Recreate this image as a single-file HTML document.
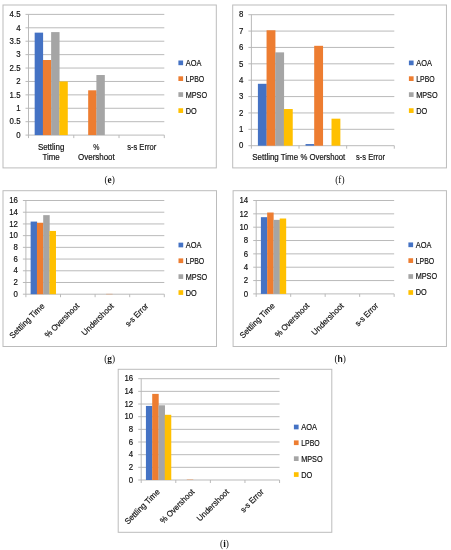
<!DOCTYPE html>
<html><head><meta charset="utf-8"><title>Figure</title>
<style>
html,body{margin:0;padding:0;background:#fff;}
svg{display:block}
text{font-family:"Liberation Sans",sans-serif;font-size:8.3px;fill:#111;stroke:#111;stroke-width:0.18px}
text.cap{font-family:"Liberation Serif",serif;font-size:9.3px;fill:#111;stroke:none}
tspan.b{font-weight:bold}
tspan.s{font-family:"Liberation Sans",sans-serif;font-size:8.6px}
</style></head><body>
<svg width="451" height="550" viewBox="0 0 451 550">
<rect width="451" height="550" fill="#fff"/>
<rect x="3" y="5" width="213.3" height="162.9" fill="#fff" stroke="#BCBCBC" stroke-width="1"/>
<line x1="25.5" y1="135.1" x2="164.3" y2="135.1" stroke="#B6B6B6" stroke-width="0.95"/>
<text x="20.5" y="137.8" text-anchor="end" textLength="4.36" lengthAdjust="spacingAndGlyphs">0</text>
<line x1="25.5" y1="121.69" x2="164.3" y2="121.69" stroke="#B6B6B6" stroke-width="0.95"/>
<text x="20.5" y="124.39" text-anchor="end" textLength="10.89" lengthAdjust="spacingAndGlyphs">0.5</text>
<line x1="25.5" y1="108.28" x2="164.3" y2="108.28" stroke="#B6B6B6" stroke-width="0.95"/>
<text x="20.5" y="110.98" text-anchor="end" textLength="4.36" lengthAdjust="spacingAndGlyphs">1</text>
<line x1="25.5" y1="94.87" x2="164.3" y2="94.87" stroke="#B6B6B6" stroke-width="0.95"/>
<text x="20.5" y="97.57" text-anchor="end" textLength="10.89" lengthAdjust="spacingAndGlyphs">1.5</text>
<line x1="25.5" y1="81.46" x2="164.3" y2="81.46" stroke="#B6B6B6" stroke-width="0.95"/>
<text x="20.5" y="84.16" text-anchor="end" textLength="4.36" lengthAdjust="spacingAndGlyphs">2</text>
<line x1="25.5" y1="68.04" x2="164.3" y2="68.04" stroke="#B6B6B6" stroke-width="0.95"/>
<text x="20.5" y="70.74" text-anchor="end" textLength="10.89" lengthAdjust="spacingAndGlyphs">2.5</text>
<line x1="25.5" y1="54.63" x2="164.3" y2="54.63" stroke="#B6B6B6" stroke-width="0.95"/>
<text x="20.5" y="57.33" text-anchor="end" textLength="4.36" lengthAdjust="spacingAndGlyphs">3</text>
<line x1="25.5" y1="41.22" x2="164.3" y2="41.22" stroke="#B6B6B6" stroke-width="0.95"/>
<text x="20.5" y="43.92" text-anchor="end" textLength="10.89" lengthAdjust="spacingAndGlyphs">3.5</text>
<line x1="25.5" y1="27.81" x2="164.3" y2="27.81" stroke="#B6B6B6" stroke-width="0.95"/>
<text x="20.5" y="30.51" text-anchor="end" textLength="4.36" lengthAdjust="spacingAndGlyphs">4</text>
<line x1="25.5" y1="14.4" x2="164.3" y2="14.4" stroke="#B6B6B6" stroke-width="0.95"/>
<text x="20.5" y="17.1" text-anchor="end" textLength="10.89" lengthAdjust="spacingAndGlyphs">4.5</text>
<line x1="28.5" y1="14.4" x2="28.5" y2="138.1" stroke="#B6B6B6" stroke-width="0.95"/>
<line x1="73.77" y1="135.1" x2="73.77" y2="138.1" stroke="#B6B6B6" stroke-width="0.95"/>
<line x1="119.03" y1="135.1" x2="119.03" y2="138.1" stroke="#B6B6B6" stroke-width="0.95"/>
<line x1="164.3" y1="135.1" x2="164.3" y2="138.1" stroke="#B6B6B6" stroke-width="0.95"/>
<rect x="34.67" y="32.64" width="8.43" height="102.46" fill="#4472C4"/>
<rect x="42.9" y="60" width="8.43" height="75.1" fill="#ED7D31"/>
<rect x="51.13" y="32.1" width="8.43" height="103" fill="#A5A5A5"/>
<rect x="59.36" y="81.46" width="8.43" height="53.64" fill="#FFC000"/>
<rect x="88.17" y="90.31" width="8.43" height="44.79" fill="#ED7D31"/>
<rect x="96.4" y="75.02" width="8.43" height="60.08" fill="#A5A5A5"/>
<text x="51.13" y="149.5" text-anchor="middle" textLength="26.50" lengthAdjust="spacingAndGlyphs">Settling</text>
<text x="51.13" y="159.9" text-anchor="middle" textLength="17.31" lengthAdjust="spacingAndGlyphs">Time</text>
<text x="96.4" y="149.5" text-anchor="middle" textLength="6.15" lengthAdjust="spacingAndGlyphs">%</text>
<text x="96.4" y="159.9" text-anchor="middle" textLength="36.69" lengthAdjust="spacingAndGlyphs">Overshoot</text>
<text x="141.67" y="149.5" text-anchor="middle" textLength="29.03" lengthAdjust="spacingAndGlyphs">s-s Error</text>
<rect x="178.4" y="60.5" width="4.7" height="4.7" fill="#4472C4"/>
<text x="185.7" y="65.8" textLength="15.65" lengthAdjust="spacingAndGlyphs">AOA</text>
<rect x="178.4" y="76.3" width="4.7" height="4.7" fill="#ED7D31"/>
<text x="185.7" y="81.6" textLength="18.43" lengthAdjust="spacingAndGlyphs">LPBO</text>
<rect x="178.4" y="92.2" width="4.7" height="4.7" fill="#A5A5A5"/>
<text x="185.7" y="97.5" textLength="21.44" lengthAdjust="spacingAndGlyphs">MPSO</text>
<rect x="178.4" y="108.25" width="4.7" height="4.7" fill="#FFC000"/>
<text x="185.7" y="113.55" textLength="10.98" lengthAdjust="spacingAndGlyphs">DO</text>
<text class="cap" x="109.6" y="183" text-anchor="middle">(<tspan class="b">e</tspan>)</text>
<rect x="232.7" y="5" width="213.75" height="162.9" fill="#fff" stroke="#BCBCBC" stroke-width="1"/>
<line x1="248.4" y1="145.7" x2="394.3" y2="145.7" stroke="#B6B6B6" stroke-width="0.95"/>
<text x="243.4" y="148.4" text-anchor="end" textLength="4.36" lengthAdjust="spacingAndGlyphs">0</text>
<line x1="248.4" y1="129.32" x2="394.3" y2="129.32" stroke="#B6B6B6" stroke-width="0.95"/>
<text x="243.4" y="132.02" text-anchor="end" textLength="4.36" lengthAdjust="spacingAndGlyphs">1</text>
<line x1="248.4" y1="112.95" x2="394.3" y2="112.95" stroke="#B6B6B6" stroke-width="0.95"/>
<text x="243.4" y="115.65" text-anchor="end" textLength="4.36" lengthAdjust="spacingAndGlyphs">2</text>
<line x1="248.4" y1="96.57" x2="394.3" y2="96.57" stroke="#B6B6B6" stroke-width="0.95"/>
<text x="243.4" y="99.27" text-anchor="end" textLength="4.36" lengthAdjust="spacingAndGlyphs">3</text>
<line x1="248.4" y1="80.2" x2="394.3" y2="80.2" stroke="#B6B6B6" stroke-width="0.95"/>
<text x="243.4" y="82.9" text-anchor="end" textLength="4.36" lengthAdjust="spacingAndGlyphs">4</text>
<line x1="248.4" y1="63.82" x2="394.3" y2="63.82" stroke="#B6B6B6" stroke-width="0.95"/>
<text x="243.4" y="66.52" text-anchor="end" textLength="4.36" lengthAdjust="spacingAndGlyphs">5</text>
<line x1="248.4" y1="47.45" x2="394.3" y2="47.45" stroke="#B6B6B6" stroke-width="0.95"/>
<text x="243.4" y="50.15" text-anchor="end" textLength="4.36" lengthAdjust="spacingAndGlyphs">6</text>
<line x1="248.4" y1="31.07" x2="394.3" y2="31.07" stroke="#B6B6B6" stroke-width="0.95"/>
<text x="243.4" y="33.77" text-anchor="end" textLength="4.36" lengthAdjust="spacingAndGlyphs">7</text>
<line x1="248.4" y1="14.7" x2="394.3" y2="14.7" stroke="#B6B6B6" stroke-width="0.95"/>
<text x="243.4" y="17.4" text-anchor="end" textLength="4.36" lengthAdjust="spacingAndGlyphs">8</text>
<line x1="251.4" y1="14.7" x2="251.4" y2="148.7" stroke="#B6B6B6" stroke-width="0.95"/>
<line x1="299.03" y1="145.7" x2="299.03" y2="148.7" stroke="#B6B6B6" stroke-width="0.95"/>
<line x1="346.67" y1="145.7" x2="346.67" y2="148.7" stroke="#B6B6B6" stroke-width="0.95"/>
<line x1="394.3" y1="145.7" x2="394.3" y2="148.7" stroke="#B6B6B6" stroke-width="0.95"/>
<rect x="257.9" y="83.8" width="8.86" height="61.9" fill="#4472C4"/>
<rect x="266.56" y="30.26" width="8.86" height="115.44" fill="#ED7D31"/>
<rect x="275.22" y="52.36" width="8.86" height="93.34" fill="#A5A5A5"/>
<rect x="283.88" y="109.02" width="8.86" height="36.68" fill="#FFC000"/>
<rect x="305.53" y="144.06" width="8.86" height="1.64" fill="#4472C4"/>
<rect x="314.19" y="45.81" width="8.86" height="99.89" fill="#ED7D31"/>
<rect x="331.51" y="118.68" width="8.86" height="27.02" fill="#FFC000"/>
<text x="275.22" y="159.5" text-anchor="middle" textLength="45.75" lengthAdjust="spacingAndGlyphs">Settling Time</text>
<text x="322.85" y="159.5" text-anchor="middle" textLength="44.78" lengthAdjust="spacingAndGlyphs">% Overshoot</text>
<text x="370.48" y="159.5" text-anchor="middle" textLength="29.03" lengthAdjust="spacingAndGlyphs">s-s Error</text>
<rect x="408.9" y="60.55" width="4.7" height="4.7" fill="#4472C4"/>
<text x="416.2" y="65.85" textLength="15.65" lengthAdjust="spacingAndGlyphs">AOA</text>
<rect x="408.9" y="76.3" width="4.7" height="4.7" fill="#ED7D31"/>
<text x="416.2" y="81.6" textLength="18.43" lengthAdjust="spacingAndGlyphs">LPBO</text>
<rect x="408.9" y="92.25" width="4.7" height="4.7" fill="#A5A5A5"/>
<text x="416.2" y="97.55" textLength="21.44" lengthAdjust="spacingAndGlyphs">MPSO</text>
<rect x="408.9" y="108.25" width="4.7" height="4.7" fill="#FFC000"/>
<text x="416.2" y="113.55" textLength="10.98" lengthAdjust="spacingAndGlyphs">DO</text>
<text class="cap" x="339.9" y="183" text-anchor="middle">(<tspan class="r">f</tspan>)</text>
<rect x="3" y="190.7" width="213.5" height="155.8" fill="#fff" stroke="#BCBCBC" stroke-width="1"/>
<line x1="22.9" y1="294.2" x2="164.3" y2="294.2" stroke="#B6B6B6" stroke-width="0.95"/>
<text x="17.9" y="296.9" text-anchor="end" textLength="4.36" lengthAdjust="spacingAndGlyphs">0</text>
<line x1="22.9" y1="282.49" x2="164.3" y2="282.49" stroke="#B6B6B6" stroke-width="0.95"/>
<text x="17.9" y="285.19" text-anchor="end" textLength="4.36" lengthAdjust="spacingAndGlyphs">2</text>
<line x1="22.9" y1="270.77" x2="164.3" y2="270.77" stroke="#B6B6B6" stroke-width="0.95"/>
<text x="17.9" y="273.47" text-anchor="end" textLength="4.36" lengthAdjust="spacingAndGlyphs">4</text>
<line x1="22.9" y1="259.06" x2="164.3" y2="259.06" stroke="#B6B6B6" stroke-width="0.95"/>
<text x="17.9" y="261.76" text-anchor="end" textLength="4.36" lengthAdjust="spacingAndGlyphs">6</text>
<line x1="22.9" y1="247.35" x2="164.3" y2="247.35" stroke="#B6B6B6" stroke-width="0.95"/>
<text x="17.9" y="250.05" text-anchor="end" textLength="4.36" lengthAdjust="spacingAndGlyphs">8</text>
<line x1="22.9" y1="235.64" x2="164.3" y2="235.64" stroke="#B6B6B6" stroke-width="0.95"/>
<text x="17.9" y="238.34" text-anchor="end" textLength="8.72" lengthAdjust="spacingAndGlyphs">10</text>
<line x1="22.9" y1="223.93" x2="164.3" y2="223.93" stroke="#B6B6B6" stroke-width="0.95"/>
<text x="17.9" y="226.62" text-anchor="end" textLength="8.72" lengthAdjust="spacingAndGlyphs">12</text>
<line x1="22.9" y1="212.21" x2="164.3" y2="212.21" stroke="#B6B6B6" stroke-width="0.95"/>
<text x="17.9" y="214.91" text-anchor="end" textLength="8.72" lengthAdjust="spacingAndGlyphs">14</text>
<line x1="22.9" y1="200.5" x2="164.3" y2="200.5" stroke="#B6B6B6" stroke-width="0.95"/>
<text x="17.9" y="203.2" text-anchor="end" textLength="8.72" lengthAdjust="spacingAndGlyphs">16</text>
<line x1="25.9" y1="200.5" x2="25.9" y2="297.2" stroke="#B6B6B6" stroke-width="0.95"/>
<line x1="60.5" y1="294.2" x2="60.5" y2="297.2" stroke="#B6B6B6" stroke-width="0.95"/>
<line x1="95.1" y1="294.2" x2="95.1" y2="297.2" stroke="#B6B6B6" stroke-width="0.95"/>
<line x1="129.7" y1="294.2" x2="129.7" y2="297.2" stroke="#B6B6B6" stroke-width="0.95"/>
<line x1="164.3" y1="294.2" x2="164.3" y2="297.2" stroke="#B6B6B6" stroke-width="0.95"/>
<rect x="30.62" y="221.58" width="6.49" height="72.62" fill="#4472C4"/>
<rect x="36.91" y="222.75" width="6.49" height="71.45" fill="#ED7D31"/>
<rect x="43.2" y="215.14" width="6.49" height="79.06" fill="#A5A5A5"/>
<rect x="49.49" y="230.95" width="6.49" height="63.25" fill="#FFC000"/>
<rect x="106.11" y="293.91" width="6.49" height="0.29" fill="#ED7D31"/>
<text transform="translate(45.1,306.6) rotate(-45)" text-anchor="end" textLength="45.75" lengthAdjust="spacingAndGlyphs">Settling Time</text>
<text transform="translate(79.7,306.6) rotate(-45)" text-anchor="end" textLength="44.78" lengthAdjust="spacingAndGlyphs">% Overshoot</text>
<text transform="translate(114.3,306.6) rotate(-45)" text-anchor="end" textLength="41.66" lengthAdjust="spacingAndGlyphs">Undershoot</text>
<text transform="translate(148.9,306.6) rotate(-45)" text-anchor="end" textLength="29.03" lengthAdjust="spacingAndGlyphs">s-s Error</text>
<rect x="178.5" y="242.65" width="4.7" height="4.7" fill="#4472C4"/>
<text x="185.8" y="247.95" textLength="15.65" lengthAdjust="spacingAndGlyphs">AOA</text>
<rect x="178.5" y="258.4" width="4.7" height="4.7" fill="#ED7D31"/>
<text x="185.8" y="263.7" textLength="18.43" lengthAdjust="spacingAndGlyphs">LPBO</text>
<rect x="178.5" y="274.25" width="4.7" height="4.7" fill="#A5A5A5"/>
<text x="185.8" y="279.55" textLength="21.44" lengthAdjust="spacingAndGlyphs">MPSO</text>
<rect x="178.5" y="290.2" width="4.7" height="4.7" fill="#FFC000"/>
<text x="185.8" y="295.5" textLength="10.98" lengthAdjust="spacingAndGlyphs">DO</text>
<text class="cap" x="109.7" y="361.6" text-anchor="middle">(<tspan class="b">g</tspan>)</text>
<rect x="233.1" y="190.7" width="213.35" height="155.8" fill="#fff" stroke="#BCBCBC" stroke-width="1"/>
<line x1="253.2" y1="293.9" x2="394.15" y2="293.9" stroke="#B6B6B6" stroke-width="0.95"/>
<text x="248.2" y="296.6" text-anchor="end" textLength="4.36" lengthAdjust="spacingAndGlyphs">0</text>
<line x1="253.2" y1="280.56" x2="394.15" y2="280.56" stroke="#B6B6B6" stroke-width="0.95"/>
<text x="248.2" y="283.26" text-anchor="end" textLength="4.36" lengthAdjust="spacingAndGlyphs">2</text>
<line x1="253.2" y1="267.21" x2="394.15" y2="267.21" stroke="#B6B6B6" stroke-width="0.95"/>
<text x="248.2" y="269.91" text-anchor="end" textLength="4.36" lengthAdjust="spacingAndGlyphs">4</text>
<line x1="253.2" y1="253.87" x2="394.15" y2="253.87" stroke="#B6B6B6" stroke-width="0.95"/>
<text x="248.2" y="256.57" text-anchor="end" textLength="4.36" lengthAdjust="spacingAndGlyphs">6</text>
<line x1="253.2" y1="240.53" x2="394.15" y2="240.53" stroke="#B6B6B6" stroke-width="0.95"/>
<text x="248.2" y="243.23" text-anchor="end" textLength="4.36" lengthAdjust="spacingAndGlyphs">8</text>
<line x1="253.2" y1="227.19" x2="394.15" y2="227.19" stroke="#B6B6B6" stroke-width="0.95"/>
<text x="248.2" y="229.89" text-anchor="end" textLength="8.72" lengthAdjust="spacingAndGlyphs">10</text>
<line x1="253.2" y1="213.84" x2="394.15" y2="213.84" stroke="#B6B6B6" stroke-width="0.95"/>
<text x="248.2" y="216.54" text-anchor="end" textLength="8.72" lengthAdjust="spacingAndGlyphs">12</text>
<line x1="253.2" y1="200.5" x2="394.15" y2="200.5" stroke="#B6B6B6" stroke-width="0.95"/>
<text x="248.2" y="203.2" text-anchor="end" textLength="8.72" lengthAdjust="spacingAndGlyphs">14</text>
<line x1="256.2" y1="200.5" x2="256.2" y2="296.9" stroke="#B6B6B6" stroke-width="0.95"/>
<line x1="290.69" y1="293.9" x2="290.69" y2="296.9" stroke="#B6B6B6" stroke-width="0.95"/>
<line x1="325.17" y1="293.9" x2="325.17" y2="296.9" stroke="#B6B6B6" stroke-width="0.95"/>
<line x1="359.66" y1="293.9" x2="359.66" y2="296.9" stroke="#B6B6B6" stroke-width="0.95"/>
<line x1="394.15" y1="293.9" x2="394.15" y2="296.9" stroke="#B6B6B6" stroke-width="0.95"/>
<rect x="260.9" y="217.18" width="6.47" height="76.72" fill="#4472C4"/>
<rect x="267.17" y="212.51" width="6.47" height="81.39" fill="#ED7D31"/>
<rect x="273.44" y="219.85" width="6.47" height="74.05" fill="#A5A5A5"/>
<rect x="279.71" y="218.51" width="6.47" height="75.39" fill="#FFC000"/>
<text transform="translate(275.34,306.3) rotate(-45)" text-anchor="end" textLength="45.75" lengthAdjust="spacingAndGlyphs">Settling Time</text>
<text transform="translate(309.83,306.3) rotate(-45)" text-anchor="end" textLength="44.78" lengthAdjust="spacingAndGlyphs">% Overshoot</text>
<text transform="translate(344.32,306.3) rotate(-45)" text-anchor="end" textLength="41.66" lengthAdjust="spacingAndGlyphs">Undershoot</text>
<text transform="translate(378.81,306.3) rotate(-45)" text-anchor="end" textLength="29.03" lengthAdjust="spacingAndGlyphs">s-s Error</text>
<rect x="408.4" y="242.45" width="4.7" height="4.7" fill="#4472C4"/>
<text x="415.7" y="247.75" textLength="15.65" lengthAdjust="spacingAndGlyphs">AOA</text>
<rect x="408.4" y="258.25" width="4.7" height="4.7" fill="#ED7D31"/>
<text x="415.7" y="263.55" textLength="18.43" lengthAdjust="spacingAndGlyphs">LPBO</text>
<rect x="408.4" y="274.15" width="4.7" height="4.7" fill="#A5A5A5"/>
<text x="415.7" y="279.45" textLength="21.44" lengthAdjust="spacingAndGlyphs">MPSO</text>
<rect x="408.4" y="290.15" width="4.7" height="4.7" fill="#FFC000"/>
<text x="415.7" y="295.45" textLength="10.98" lengthAdjust="spacingAndGlyphs">DO</text>
<text class="cap" x="340.2" y="361.6" text-anchor="middle">(<tspan class="b s">h</tspan>)</text>
<rect x="118.2" y="369.3" width="213.6" height="163" fill="#fff" stroke="#BCBCBC" stroke-width="1"/>
<line x1="138.2" y1="480" x2="279.55" y2="480" stroke="#B6B6B6" stroke-width="0.95"/>
<text x="133.2" y="482.7" text-anchor="end" textLength="4.36" lengthAdjust="spacingAndGlyphs">0</text>
<line x1="138.2" y1="467.34" x2="279.55" y2="467.34" stroke="#B6B6B6" stroke-width="0.95"/>
<text x="133.2" y="470.04" text-anchor="end" textLength="4.36" lengthAdjust="spacingAndGlyphs">2</text>
<line x1="138.2" y1="454.68" x2="279.55" y2="454.68" stroke="#B6B6B6" stroke-width="0.95"/>
<text x="133.2" y="457.38" text-anchor="end" textLength="4.36" lengthAdjust="spacingAndGlyphs">4</text>
<line x1="138.2" y1="442.01" x2="279.55" y2="442.01" stroke="#B6B6B6" stroke-width="0.95"/>
<text x="133.2" y="444.71" text-anchor="end" textLength="4.36" lengthAdjust="spacingAndGlyphs">6</text>
<line x1="138.2" y1="429.35" x2="279.55" y2="429.35" stroke="#B6B6B6" stroke-width="0.95"/>
<text x="133.2" y="432.05" text-anchor="end" textLength="4.36" lengthAdjust="spacingAndGlyphs">8</text>
<line x1="138.2" y1="416.69" x2="279.55" y2="416.69" stroke="#B6B6B6" stroke-width="0.95"/>
<text x="133.2" y="419.39" text-anchor="end" textLength="8.72" lengthAdjust="spacingAndGlyphs">10</text>
<line x1="138.2" y1="404.02" x2="279.55" y2="404.02" stroke="#B6B6B6" stroke-width="0.95"/>
<text x="133.2" y="406.72" text-anchor="end" textLength="8.72" lengthAdjust="spacingAndGlyphs">12</text>
<line x1="138.2" y1="391.36" x2="279.55" y2="391.36" stroke="#B6B6B6" stroke-width="0.95"/>
<text x="133.2" y="394.06" text-anchor="end" textLength="8.72" lengthAdjust="spacingAndGlyphs">14</text>
<line x1="138.2" y1="378.7" x2="279.55" y2="378.7" stroke="#B6B6B6" stroke-width="0.95"/>
<text x="133.2" y="381.4" text-anchor="end" textLength="8.72" lengthAdjust="spacingAndGlyphs">16</text>
<line x1="141.2" y1="378.7" x2="141.2" y2="483" stroke="#B6B6B6" stroke-width="0.95"/>
<line x1="175.79" y1="480" x2="175.79" y2="483" stroke="#B6B6B6" stroke-width="0.95"/>
<line x1="210.38" y1="480" x2="210.38" y2="483" stroke="#B6B6B6" stroke-width="0.95"/>
<line x1="244.96" y1="480" x2="244.96" y2="483" stroke="#B6B6B6" stroke-width="0.95"/>
<line x1="279.55" y1="480" x2="279.55" y2="483" stroke="#B6B6B6" stroke-width="0.95"/>
<rect x="145.92" y="405.92" width="6.49" height="74.08" fill="#4472C4"/>
<rect x="152.21" y="393.89" width="6.49" height="86.11" fill="#ED7D31"/>
<rect x="158.49" y="405.29" width="6.49" height="74.71" fill="#A5A5A5"/>
<rect x="164.78" y="414.79" width="6.49" height="65.21" fill="#FFC000"/>
<rect x="186.79" y="479.68" width="6.49" height="0.32" fill="#ED7D31"/>
<text transform="translate(160.39,492.4) rotate(-45)" text-anchor="end" textLength="45.75" lengthAdjust="spacingAndGlyphs">Settling Time</text>
<text transform="translate(194.98,492.4) rotate(-45)" text-anchor="end" textLength="44.78" lengthAdjust="spacingAndGlyphs">% Overshoot</text>
<text transform="translate(229.57,492.4) rotate(-45)" text-anchor="end" textLength="41.66" lengthAdjust="spacingAndGlyphs">Undershoot</text>
<text transform="translate(264.16,492.4) rotate(-45)" text-anchor="end" textLength="29.03" lengthAdjust="spacingAndGlyphs">s-s Error</text>
<rect x="293.9" y="424.65" width="4.7" height="4.7" fill="#4472C4"/>
<text x="301.2" y="429.95" textLength="15.65" lengthAdjust="spacingAndGlyphs">AOA</text>
<rect x="293.9" y="440.4" width="4.7" height="4.7" fill="#ED7D31"/>
<text x="301.2" y="445.7" textLength="18.43" lengthAdjust="spacingAndGlyphs">LPBO</text>
<rect x="293.9" y="456.3" width="4.7" height="4.7" fill="#A5A5A5"/>
<text x="301.2" y="461.6" textLength="21.44" lengthAdjust="spacingAndGlyphs">MPSO</text>
<rect x="293.9" y="472.2" width="4.7" height="4.7" fill="#FFC000"/>
<text x="301.2" y="477.5" textLength="10.98" lengthAdjust="spacingAndGlyphs">DO</text>
<text class="cap" x="224.5" y="547" text-anchor="middle">(<tspan class="b">i</tspan>)</text>
</svg>
</body></html>
